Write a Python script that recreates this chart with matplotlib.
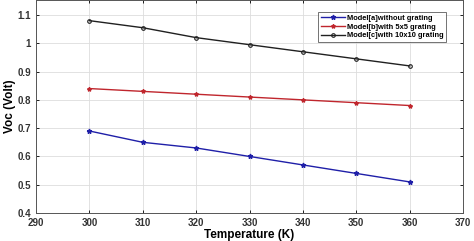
import matplotlib.pyplot as plt

# Temperatur and Voc values
temperature = [300, 310, 320, 330, 340, 350, 360]
voc_model_a = [0.69, 0.65, 0.63, 0.60, 0.57, 0.54, 0.51]
voc_model_b = [0.84, 0.83, 0.82, 0.81, 0.80, 0.79, 0.78]
voc_model_c = [1.08, 1.055, 1.02, 0.995, 0.97, 0.945, 0.92]

x_ticks = [290, 300, 310, 320, 330, 340, 350, 360, 370]
y_ticks = [0.4, 0.5, 0.6, 0.7, 0.8, 0.9, 1.0, 1.1]
y_tick_labels = ['0.4', '0.5', '0.6', '0.7', '0.8', '0.9', '1', '1.1']

plt.rcParams['font.family'] = ['Arial', 'Liberation Sans', 'DejaVu Sans']

fig = plt.figure(figsize=(4.74, 2.41), dpi=100)
ax = fig.add_axes([0.076, 0.116, 0.901, 0.884])

ax.plot(temperature, voc_model_a, color='#1f1fa8', marker='*', markersize=3.5,
        linewidth=1.0, label='Model[a]without grating')
ax.plot(temperature, voc_model_b, color='#c0262d', marker='*', markersize=3,
        linewidth=1.0, label='Model[b]with 5x5 grating')
ax.plot(temperature, voc_model_c, color='#202020', marker='o', markersize=2.6,
        markerfacecolor='none', markeredgewidth=0.8, linewidth=1.0,
        label='Model[c]with 10x10 grating')

ax.set_xlim(290, 370)
ax.set_ylim(0.4, 1.153)
ax.set_xticks(x_ticks)
ax.set_yticks(y_ticks)
ax.set_yticklabels(y_tick_labels)
ax.tick_params(labelsize=7, length=2, width=0.6, direction='in',
               top=True, right=True, pad=3.5)
for lbl in ax.get_xticklabels() + ax.get_yticklabels():
    lbl.set_fontweight('bold')
    lbl.set_color('#333333')

ax.grid(True, color='#dddddd', linewidth=0.6)
for s in ax.spines.values():
    s.set_color('#555555')
    s.set_linewidth(0.7)

ax.set_xlabel('Temperature (K)', fontsize=8.5, fontweight='bold', labelpad=1)
ax.set_ylabel('Voc (Volt)', fontsize=8.5, fontweight='bold', labelpad=1)

leg = ax.legend(loc='upper right', bbox_to_anchor=(0.968, 0.96),
                prop={'size': 5.4, 'weight': 'bold'}, frameon=True,
                fancybox=False, edgecolor='#333333', borderpad=0.3,
                handlelength=3.2, labelspacing=0.2, handletextpad=0.3)
leg.get_frame().set_linewidth(0.6)

plt.savefig('out.png', dpi=100)
